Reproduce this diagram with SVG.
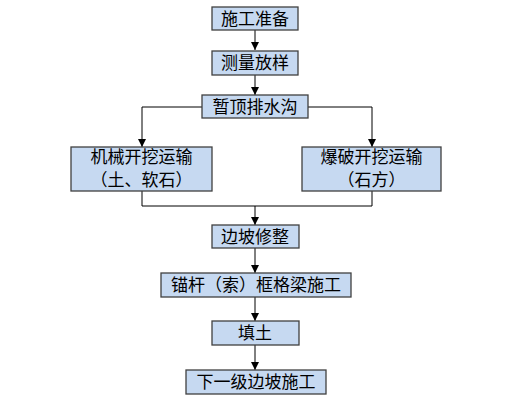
<svg xmlns="http://www.w3.org/2000/svg" width="506" height="401" viewBox="0 0 506 401">
<defs>
<style>
.box{fill:#c6d9f1;stroke:#404040;stroke-width:1.3}
.t{font-family:"Noto Sans CJK SC","Noto Sans CJK JP",sans-serif;font-size:17px;fill:#000;text-anchor:middle}
.c{fill:none;stroke:#000;stroke-width:1}
</style>
<marker id="ah" viewBox="0 0 10 10" refX="10" refY="5" markerWidth="8" markerHeight="9" markerUnits="userSpaceOnUse" orient="auto">
<path d="M0,0 L10,5 L0,10 Z" fill="#000"/>
</marker>
</defs>
<rect width="506" height="401" fill="#fff"/>
<g id="connectors">
<line class="c" x1="255" y1="30" x2="255" y2="50" marker-end="url(#ah)"/>
<line class="c" x1="255" y1="75" x2="255" y2="95" marker-end="url(#ah)"/>
<polyline class="c" points="202,107 142,107 142,147" marker-end="url(#ah)"/>
<polyline class="c" points="308,107 372,107 372,147" marker-end="url(#ah)"/>
<polyline class="c" points="142,191 142,206 372,206 372,191"/>
<line class="c" x1="255" y1="206" x2="255" y2="225" marker-end="url(#ah)"/>
<line class="c" x1="255" y1="248" x2="255" y2="273" marker-end="url(#ah)"/>
<line class="c" x1="255" y1="297" x2="255" y2="321" marker-end="url(#ah)"/>
<line class="c" x1="255" y1="345" x2="255" y2="370" marker-end="url(#ah)"/>
</g>
<g id="n1"><rect class="box" x="212" y="7" width="86" height="23"/><text class="t" x="255" y="24.5">施工准备</text></g>
<g id="n2"><rect class="box" x="212" y="51" width="86" height="24"/><text class="t" x="255" y="69">测量放样</text></g>
<g id="n3"><rect class="box" x="202" y="95" width="106" height="23"/><text class="t" x="255" y="112.5">暂顶排水沟</text></g>
<g id="n4"><rect class="box" x="71" y="147" width="141" height="44"/><text class="t" x="141.5" y="163">机械开挖运输</text><text class="t" x="141.5" y="186">（土、软石）</text></g>
<g id="n5"><rect class="box" x="302" y="147" width="139" height="44"/><text class="t" x="371.5" y="163">爆破开挖运输</text><text class="t" x="371.5" y="186">（石方）</text></g>
<g id="n6"><rect class="box" x="212" y="225" width="87" height="23"/><text class="t" x="255" y="242.5">边坡修整</text></g>
<g id="n7"><rect class="box" x="161" y="273" width="190" height="24"/><text class="t" x="256" y="291">锚杆（索）框格梁施工</text></g>
<g id="n8"><rect class="box" x="212" y="321" width="87" height="24"/><text class="t" x="255" y="339">填土</text></g>
<g id="n9"><rect class="box" x="186" y="370" width="140" height="24"/><text class="t" x="256" y="388">下一级边坡施工</text></g>
</svg>
